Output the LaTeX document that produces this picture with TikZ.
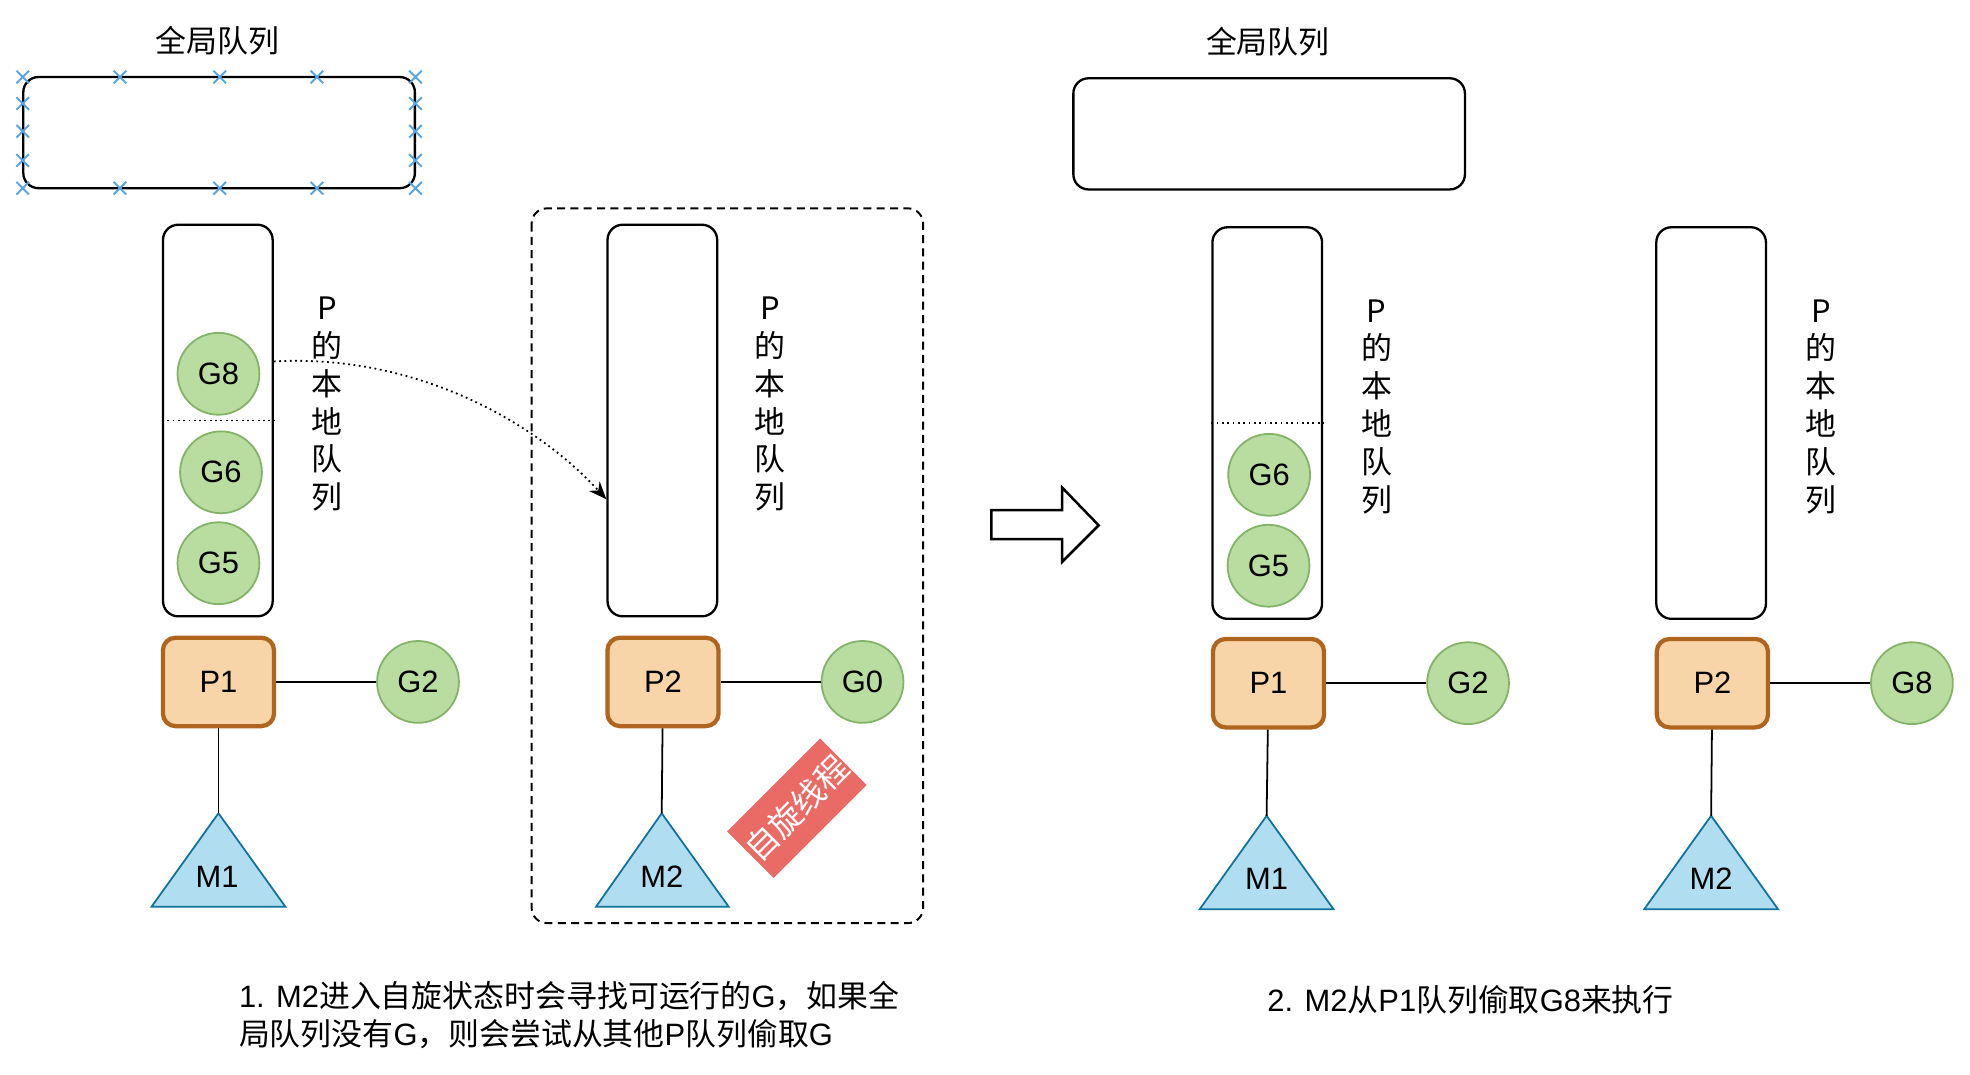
\documentclass[tikz,border=0pt]{standalone}
\usepackage{fontspec}
\setmainfont{Liberation Sans}
\newfontfamily\cjk{Noto Sans CJK SC}
\usepackage{xcolor}
\usepackage{tikz}
\usetikzlibrary{arrows.meta,positioning,calc}

\definecolor{gfill}{HTML}{B9DCA0}
\definecolor{gline}{HTML}{82B366}
\definecolor{pfill}{HTML}{F8D5A8}
\definecolor{pline}{HTML}{B0651E}
\definecolor{mfill}{HTML}{B1DDF0}
\definecolor{mline}{HTML}{10739E}
\definecolor{spinred}{HTML}{EA6B66}
\definecolor{handle}{HTML}{5AA5E0}

\newcommand{\diafont}{\fontsize{17.4}{21}\selectfont}

\begin{document}
\begin{tikzpicture}[x=0.025cm, y=-0.025cm,
gqueue/.style={rectangle, draw, line width=1.3pt, rounded corners=0.3cm, minimum width=7.75cm, minimum height=2.2cm},
lqueue/.style={rectangle, draw, line width=1.3pt, rounded corners=0.3cm, minimum width=2.17cm, minimum height=7.75cm},
proc/.style={rectangle, draw=pline, fill=pfill, line width=2.4pt, rounded corners=0.25cm, minimum width=2.2cm, minimum height=1.75cm, font=\diafont},
gor/.style={circle, draw=gline, fill=gfill, line width=1pt, minimum size=1.62cm, inner sep=0pt, font=\diafont},
mtri/.style={draw=mline, fill=mfill, line width=1pt, line join=miter},
mlabel/.style={font=\diafont, inner sep=0pt},
title/.style={font=\diafont\cjk},
vtext/.style={font=\fontsize{17.4}{21.3}\selectfont\cjk, align=center, inner sep=0pt},
link/.style={line width=1pt},
divider/.style={line width=1pt, dotted},
steal/.style={line width=1pt, dotted, -{Stealth[length=10pt, width=8pt]}},
spin/.style={rectangle, fill=spinred, text=white, font=\fontsize{18.5}{20}\selectfont\cjk, minimum width=2.57cm, minimum height=1.3cm, inner sep=0pt},
xmark/.style={handle, line width=1.1pt}
]
\useasboundingbox (0,0) rectangle (1560,850.5);

% ---------- Step 1 ----------
% Global queue (selected)
\node[title] (gtitle1) at (172,32) {全局队列};
\node[gqueue] (gq1) at (173.5,105) {};
\foreach \x in {18,95,174,251,329}{
  \draw[xmark] (\x-5,61-5) -- (\x+5,61+5) (\x-5,61+5) -- (\x+5,61-5);
  \draw[xmark] (\x-5,149-5) -- (\x+5,149+5) (\x-5,149+5) -- (\x+5,149-5);
}
\foreach \y in {82,104,127}{
  \draw[xmark] (18-5,\y-5) -- (18+5,\y+5) (18-5,\y+5) -- (18+5,\y-5);
  \draw[xmark] (329-5,\y-5) -- (329+5,\y+5) (329-5,\y+5) -- (329+5,\y-5);
}

% Local queue of P1
\node[lqueue] (q1) at (172.5,333) {};
\draw[divider] (q1.west) -- (q1.east);
\node[gor] (g8) at (173,296) {G8};
\node[gor] (g6) at (175,374) {G6};
\node[gor] (g5) at (173,446) {G5};
\node[vtext] (q1text) at (259,320) {P\\的\\本\\地\\队\\列};

% P1, G2, M1
\node[proc] (p1) at (173,540) {P1};
\node[gor] (g2) at (331,540) {G2};
\draw[link] (p1) -- (g2);
\draw[mtri] (120,718) -- (173,644) -- (226,718) -- cycle;
\coordinate (m1top) at (173,644);
\node[mlabel] (m1) at (172,694) {M1};
\draw[link] (p1) -- (m1top);

% Spinning thread area
\draw[line width=1.1pt, dash pattern=on 4.5pt off 3pt, rounded corners=0.3cm] (421,165) rectangle (731,731);
\node[lqueue] (q2) at (524.5,333) {};
\node[vtext] (q2text) at (610,320) {P\\的\\本\\地\\队\\列};
\node[proc] (p2) at (525,540) {P2};
\node[gor] (g0) at (683,540) {G0};
\draw[link] (p2) -- (g0);
\draw[mtri] (472,718) -- (524,644) -- (577,718) -- cycle;
\coordinate (m2top) at (524,644);
\node[mlabel] (m2) at (524,694) {M2};
\draw[link] (p2) -- (m2top);
\node[spin, rotate=45] (spinlabel) at (631,640) {自旋线程};

% Steal G8
\draw[steal] ($(q1.north east)!0.35!(q1.south east)$) .. controls (330,280) and (425,335) .. ($(q2.north west)!0.70!(q2.south west)$);

\node[font=\fontsize{17.4}{21.3}\selectfont, align=left, anchor=west, inner sep=0pt] (cap1) at (189,804)
  {1. M2{\cjk 进入自旋状态时会寻找可运行的}G{\cjk ，如果全}\\{\cjk 局队列没有}G{\cjk ，则会尝试从其他}P{\cjk 队列偷取}G};

% ---------- Arrow ----------
\draw[line width=1.4pt, fill=white, line join=miter] (785,404) -- (841,404) -- (841,386) -- (870,416) -- (841,445) -- (841,427) -- (785,427) -- cycle;

% ---------- Step 2 ----------
\node[title] (gtitle2) at (1004,33) {全局队列};
\node[gqueue] (gq2) at (1005,106) {};

% P1 side
\node[lqueue] (q3) at (1003.5,335) {};
\draw[divider] (q3.west) -- (q3.east);
\node[gor] (g6b) at (1005,376) {G6};
\node[gor] (g5b) at (1004.5,448) {G5};
\node[vtext] (q3text) at (1090,322) {P\\的\\本\\地\\队\\列};
\node[proc] (p1b) at (1004.5,541) {P1};
\node[gor] (g2b) at (1162.5,541) {G2};
\draw[link] (p1b) -- (g2b);
\draw[mtri] (950,720) -- (1003,646) -- (1056,720) -- cycle;
\coordinate (m1btop) at (1003,646);
\node[mlabel] (m1b) at (1003,696) {M1};
\draw[link] (p1b) -- (m1btop);

% P2 side
\node[lqueue] (q4) at (1355,335) {};
\node[vtext] (q4text) at (1442,322) {P\\的\\本\\地\\队\\列};
\node[proc] (p2b) at (1356,541) {P2};
\node[gor] (g8b) at (1514,541) {G8};
\draw[link] (p2b) -- (g8b);
\draw[mtri] (1302,720) -- (1355,646) -- (1408,720) -- cycle;
\coordinate (m2btop) at (1355,646);
\node[mlabel] (m2b) at (1355,696) {M2};
\draw[link] (p2b) -- (m2btop);

\node[font=\diafont] (cap2) at (1164.5,792) {2. M2{\cjk 从}P1{\cjk 队列偷取}G8{\cjk 来执行}};

\end{tikzpicture}
\end{document}
